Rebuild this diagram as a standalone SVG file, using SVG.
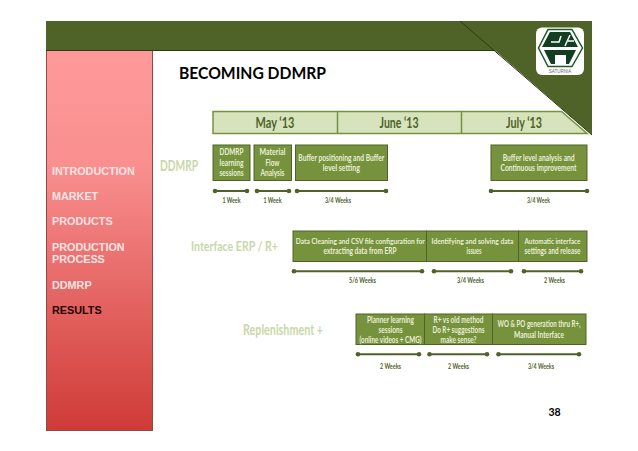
<svg xmlns="http://www.w3.org/2000/svg" width="638" height="451" viewBox="0 0 638 451">
<style>
text{font-family:Lato,"Liberation Sans",sans-serif}
.m{font-weight:700;font-size:14.500px;fill:#4f6228;text-anchor:middle}
.b{fill:#76923c;stroke:#4f6228;stroke-width:1}
.t{font-weight:700;font-size:8.500px;fill:#e8efd8;text-anchor:middle}
.s{font-size:7px}
.d{font-weight:700;font-size:6.500px;fill:#4f6228;text-anchor:middle}
.r{font-weight:700;font-size:15.500px;fill:#c8d8a8;text-anchor:middle}
.n{font-family:"Liberation Sans",Arial,sans-serif;font-weight:700;font-size:10.800px;fill:#f8e4e4}
.c line{stroke:#4f6228;stroke-width:2}
.c circle{fill:#4f6228}
</style>
<defs>
<linearGradient id="g" x1="0" y1="0" x2="0" y2="1"><stop offset="0" stop-color="#ff9a9a"/><stop offset=".3" stop-color="#f98f8f"/><stop offset="1" stop-color="#cf3b37"/></linearGradient>
</defs>
<rect width="638" height="451" fill="#fff"/>
<g id="sidebar"><rect x="46.500" y="50.500" width="106" height="380" fill="url(#g)" stroke="#8c4a48"/>
<text class="n" x="52" y="175">INTRODUCTION</text><text class="n" x="52" y="200">MARKET</text><text class="n" x="52" y="225">PRODUCTS</text><text class="n" x="52" y="251">PRODUCTION</text><text class="n" x="52" y="263">PROCESS</text><text class="n" x="52" y="289">DDMRP</text><text class="n" x="52" y="314" style="fill:#200">RESULTS</text></g>
<g id="months"><path d="M213 111.500H561.500L587 133.500H213Z" fill="#d6e3bc" stroke="#76923c" stroke-width="1.500"/><path d="M337.500 111.500V133.500M461.500 111.500V133.500" fill="none" stroke="#76923c" stroke-width="1.500"/>
<text class="m" x="275" y="127.500" textLength="39" lengthAdjust="spacingAndGlyphs">May ‘13</text><text class="m" x="399" y="127.500" textLength="39" lengthAdjust="spacingAndGlyphs">June ‘13</text><text class="m" x="524" y="127.500" textLength="36" lengthAdjust="spacingAndGlyphs">July ‘13</text></g>
<g id="banner"><path d="M46 21H592V135L495 50.500H46Z" fill="#4f6228"/><path d="M46 50.500H495M460 21L592 135" fill="none" stroke="#2c3a16"/></g>
<g id="logo"><rect x="536" y="27.500" width="48" height="47.500" rx="6" fill="#fff"/><path d="M548 29.500H572L582.500 48L572 66.500H548L538.500 48Z" fill="#fff" stroke="#1d5a2e" stroke-width="1.500"/><path d="M550 32H570L578 47H542Z" fill="#123f22"/><path d="M544 50H576L569 64H566V55H555V64H551Z" fill="#123f22"/><path d="M551 42H559L561 36M565 46L570 35M568 41H574" stroke="#fff" stroke-width="1.500" fill="none"/><text x="560" y="73" font-size="4.500" text-anchor="middle" fill="#666" style="font-family:'Liberation Sans',sans-serif">SATURNIA</text></g>
<text id="title" x="179" y="79" font-weight="700" font-size="17" fill="#000" textLength="147" lengthAdjust="spacingAndGlyphs">BECOMING DDMRP</text>
<text class="r" x="179" y="171" textLength="38" lengthAdjust="spacingAndGlyphs">DDMRP</text><text class="r s2" x="234.500" y="251" style="font-size:14px" textLength="87" lengthAdjust="spacingAndGlyphs">Interface ERP / R+</text><text class="r" x="283" y="335" textLength="80" lengthAdjust="spacingAndGlyphs">Replenishment +</text>
<g id="n1"><rect class="b" x="213" y="145" width="37" height="35.500"/><text class="t" x="231.500" y="155" textLength="24" lengthAdjust="spacingAndGlyphs">DDMRP</text><text class="t" x="231.500" y="165.500" textLength="24" lengthAdjust="spacingAndGlyphs">learning</text><text class="t" x="231.500" y="175.500" textLength="24" lengthAdjust="spacingAndGlyphs">sessions</text></g>
<g id="n2"><rect class="b" x="254" y="145" width="37.500" height="35.500"/><text class="t" x="272.500" y="155" textLength="26" lengthAdjust="spacingAndGlyphs">Material</text><text class="t" x="272.500" y="165.500" textLength="14" lengthAdjust="spacingAndGlyphs">Flow</text><text class="t" x="272.500" y="175.500" textLength="24" lengthAdjust="spacingAndGlyphs">Analysis</text></g>
<g id="n3"><rect class="b" x="295.500" y="145" width="92" height="35.500"/><text class="t" x="341.300" y="160.500" textLength="86" lengthAdjust="spacingAndGlyphs">Buffer positioning and Buffer</text><text class="t" x="341.300" y="171" textLength="37" lengthAdjust="spacingAndGlyphs">level setting</text></g>
<g id="n4"><rect class="b" x="491" y="145" width="96" height="35.500"/><text class="t" x="538.700" y="160.500" textLength="72" lengthAdjust="spacingAndGlyphs">Buffer level analysis and</text><text class="t" x="538.500" y="171" textLength="76" lengthAdjust="spacingAndGlyphs">Continuous improvement</text></g>
<g id="n5"><rect class="b" x="293" y="231" width="133.500" height="30.500"/><text class="t s" x="360.300" y="243.500" textLength="129" lengthAdjust="spacingAndGlyphs" style="font-size:6.800px">Data Cleaning and CSV file configuration for</text><text class="t" x="360" y="254" textLength="73" lengthAdjust="spacingAndGlyphs">extracting data from ERP</text></g>
<g id="n6"><rect class="b" x="426.500" y="231" width="92" height="30.500"/><text class="t s" x="472.500" y="243.500" textLength="82" lengthAdjust="spacingAndGlyphs">Identifying and solving data</text><text class="t" x="474" y="254" textLength="15" lengthAdjust="spacingAndGlyphs">issues</text></g>
<g id="n7"><rect class="b" x="518.500" y="231" width="68.500" height="30.500"/><text class="t s" x="552.500" y="243.500" textLength="56" lengthAdjust="spacingAndGlyphs">Automatic interface</text><text class="t" x="552.500" y="254" textLength="56" lengthAdjust="spacingAndGlyphs">settings and release</text></g>
<g id="n8"><rect class="b" x="356" y="314" width="68.500" height="30.500"/><text class="t" x="390.500" y="322.500" textLength="47" lengthAdjust="spacingAndGlyphs">Planner learning</text><text class="t" x="390.500" y="332.500" textLength="24" lengthAdjust="spacingAndGlyphs">sessions</text><text class="t" x="390.500" y="342.500" textLength="62" lengthAdjust="spacingAndGlyphs">(online videos + CMG)</text></g>
<g id="n9"><rect class="b" x="424.500" y="314" width="68" height="30.500"/><text class="t" x="458.500" y="322.500" textLength="50" lengthAdjust="spacingAndGlyphs">R+ vs old method</text><text class="t" x="458.500" y="332.500" textLength="52" lengthAdjust="spacingAndGlyphs">Do R+ suggestions</text><text class="t" x="458.500" y="342.500" textLength="36" lengthAdjust="spacingAndGlyphs">make sense?</text></g>
<g id="n10"><rect class="b" x="492.500" y="314" width="93.500" height="30.500"/><text class="t" x="539" y="327" textLength="83" lengthAdjust="spacingAndGlyphs">WO &amp; PO generation thru R+,</text><text class="t" x="539" y="337.500" textLength="50" lengthAdjust="spacingAndGlyphs">Manual Interface</text></g>
<g id="connectors" class="c">
<line x1="215" y1="191" x2="247" y2="191"/><circle cx="215" cy="191" r="2.300"/><circle cx="247" cy="191" r="2.300"/>
<line x1="257" y1="191" x2="289" y2="191"/><circle cx="257" cy="191" r="2.300"/><circle cx="289" cy="191" r="2.300"/>
<line x1="297" y1="191" x2="386" y2="191"/><circle cx="297" cy="191" r="2.300"/><circle cx="386" cy="191" r="2.300"/>
<line x1="491" y1="191" x2="587" y2="191"/><circle cx="491" cy="191" r="2.300"/><circle cx="587" cy="191" r="2.300"/>
<line x1="294" y1="271.300" x2="422" y2="271.300"/><circle cx="294" cy="271.300" r="2.300"/><circle cx="422" cy="271.300" r="2.300"/>
<line x1="434" y1="271.300" x2="511" y2="271.300"/><circle cx="434" cy="271.300" r="2.300"/><circle cx="511" cy="271.300" r="2.300"/>
<line x1="524" y1="271.300" x2="581" y2="271.300"/><circle cx="524" cy="271.300" r="2.300"/><circle cx="581" cy="271.300" r="2.300"/>
<line x1="358" y1="354.300" x2="419" y2="354.300"/><circle cx="358" cy="354.300" r="2.300"/><circle cx="419" cy="354.300" r="2.300"/>
<line x1="429.500" y1="354.300" x2="487" y2="354.300"/><circle cx="429.500" cy="354.300" r="2.300"/><circle cx="487" cy="354.300" r="2.300"/>
<line x1="498.500" y1="354.300" x2="579" y2="354.300"/><circle cx="498.500" cy="354.300" r="2.300"/><circle cx="579" cy="354.300" r="2.300"/>
</g>
<g id="durations"><text class="d" x="231.500" y="202.500" textLength="18" lengthAdjust="spacingAndGlyphs">1 Week</text><text class="d" x="272.500" y="202.500" textLength="18" lengthAdjust="spacingAndGlyphs">1 Week</text><text class="d" x="338" y="202.500" textLength="26" lengthAdjust="spacingAndGlyphs">3/4 Weeks</text><text class="d" x="538.500" y="202.500" textLength="23" lengthAdjust="spacingAndGlyphs">3/4 Week</text><text class="d" x="362.500" y="283" textLength="27" lengthAdjust="spacingAndGlyphs">5/6 Weeks</text><text class="d" x="470.500" y="283" textLength="27" lengthAdjust="spacingAndGlyphs">3/4 Weeks</text><text class="d" x="554.500" y="283" textLength="21" lengthAdjust="spacingAndGlyphs">2 Weeks</text><text class="d" x="390.500" y="369" textLength="21" lengthAdjust="spacingAndGlyphs">2 Weeks</text><text class="d" x="458.500" y="369" textLength="21" lengthAdjust="spacingAndGlyphs">2 Weeks</text><text class="d" x="541" y="369" textLength="26" lengthAdjust="spacingAndGlyphs">3/4 Weeks</text></g>
<text id="page" x="554.500" y="416" font-weight="700" font-size="10.500" text-anchor="middle">38</text>
</svg>
